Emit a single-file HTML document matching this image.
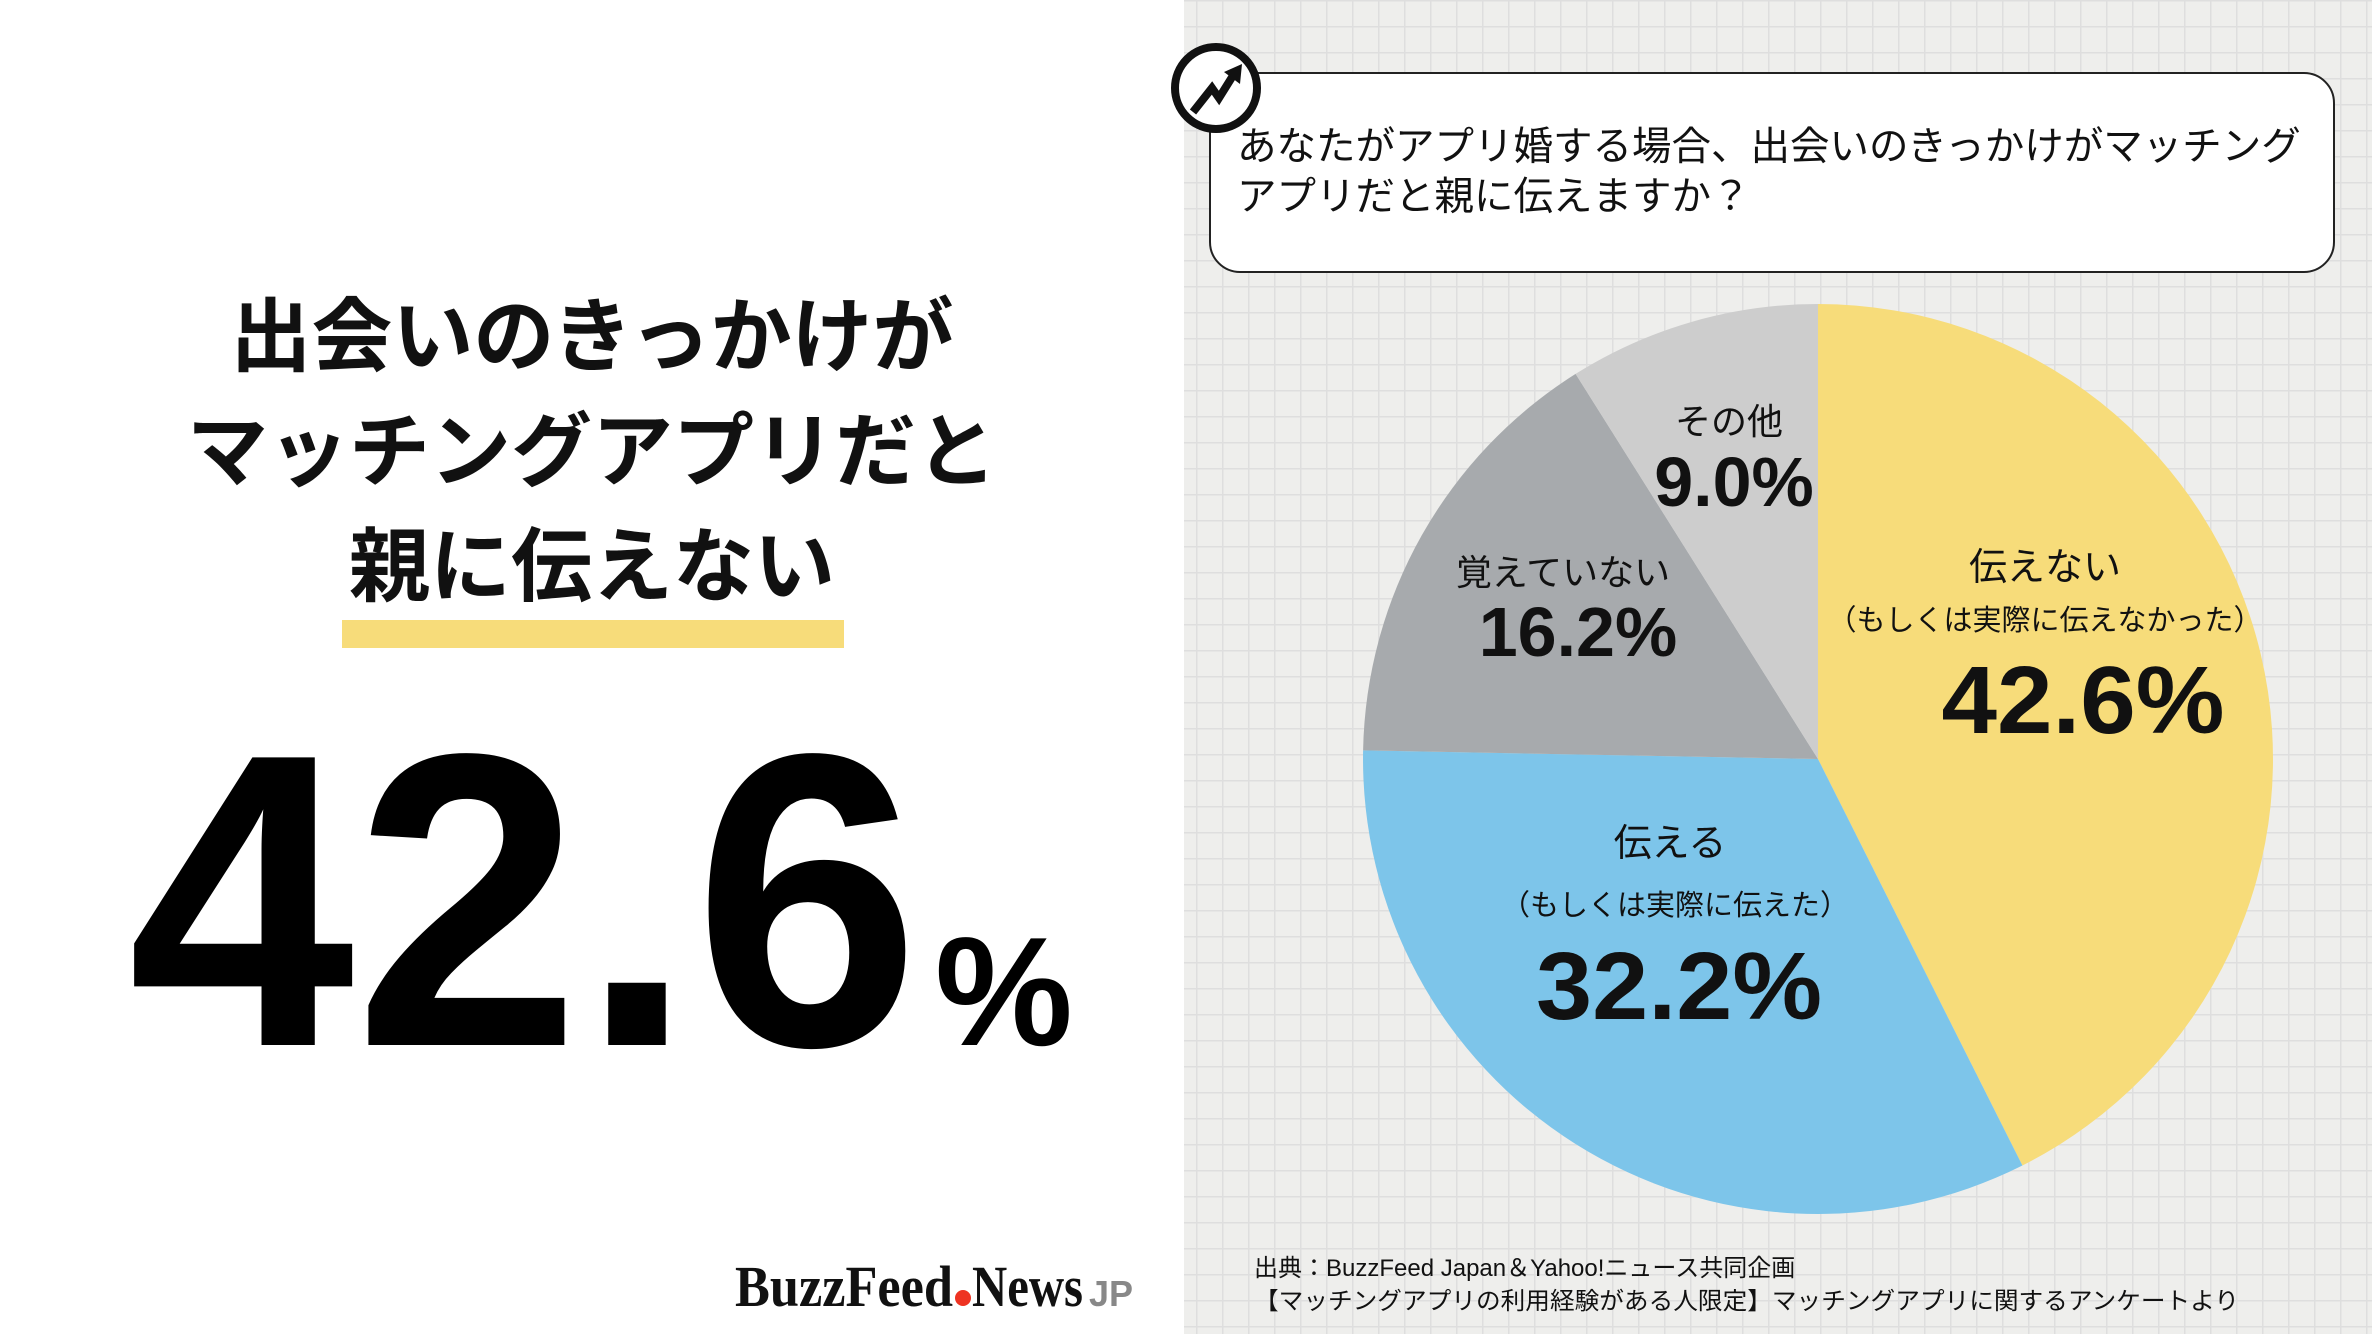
<!DOCTYPE html>
<html><head><meta charset="utf-8"><style>
html,body{margin:0;padding:0;background:#fff}
svg{display:block}
.jp{font-family:"Liberation Sans","Noto Sans CJK JP",sans-serif}
</style></head><body>
<svg width="2372" height="1334" viewBox="0 0 2372 1334" xmlns="http://www.w3.org/2000/svg" class="jp">
<defs>
<pattern id="g" width="26" height="26" patternUnits="userSpaceOnUse">
<rect width="26" height="26" fill="#eeeeec"/>
<path d="M0 0.5H26M0.5 0V26" stroke="#dedede" stroke-width="2"/>
</pattern>
</defs>
<rect x="0" y="0" width="1184" height="1334" fill="#fff"/>
<rect x="1184" y="0" width="1188" height="1334" fill="url(#g)"/>

<!-- left -->
<g font-weight="bold" fill="#111" font-size="81" text-anchor="middle">
<text x="592" y="365">出会いのきっかけが</text>
<text x="592" y="480">マッチングアプリだと</text>
<text x="592" y="595">親に伝えない</text>
</g>
<rect x="342" y="620" width="502" height="28" fill="#f7dc7a"/>
<text x="128" y="1045" font-size="418" font-weight="bold" fill="#000" textLength="792" lengthAdjust="spacingAndGlyphs" font-family="Liberation Sans,sans-serif">42.6</text>
<text x="935" y="1045" font-size="155" font-weight="bold" fill="#000" font-family="Liberation Sans,sans-serif">%</text>
<g font-family="Liberation Serif,serif" font-weight="bold" fill="#111">
<text x="735" y="1306" font-size="58" textLength="218" lengthAdjust="spacingAndGlyphs">BuzzFeed</text>
<circle cx="963" cy="1298" r="8" fill="#e32"/>
<text x="972" y="1306" font-size="58" textLength="111" lengthAdjust="spacingAndGlyphs">News</text>
<text x="1089" y="1306" font-size="36" fill="#888" font-family="Liberation Sans,sans-serif">JP</text>
</g>

<!-- bubble -->
<rect x="1210" y="73" width="1124" height="199" rx="30" fill="#fff" stroke="#222" stroke-width="2"/>
<circle cx="1216" cy="88" r="41" fill="#fff" stroke="#111" stroke-width="8"/>
<path d="M1193 112 L1212 88 L1219 98 L1234 74" fill="none" stroke="#111" stroke-width="8"/>
<path d="M1224 72 L1242 64 L1240 84 Z" fill="#111"/>
<g font-size="39.5" fill="#111">
<text x="1237" y="160">あなたがアプリ婚する場合、出会いのきっかけがマッチング</text>
<text x="1237" y="210">アプリだと親に伝えますか？</text>
</g>

<!-- pie -->
<g transform="translate(1818,759)">
<path d="M0 0 L0 -455 A455 455 0 0 1 204.4 406.5 Z" fill="#f7dc7a"/>
<path d="M0 0 L204.4 406.5 A455 455 0 0 1 -454.9 -8.6 Z" fill="#7dc5ea"/>
<path d="M0 0 L-454.9 -8.6 A455 455 0 0 1 -242.4 -385.1 Z" fill="#a7aaad"/>
<path d="M0 0 L-242.4 -385.1 A455 455 0 0 1 0 -455 Z" fill="#cdcdcd"/>
</g>
<g fill="#111" text-anchor="middle">
<text x="1729" y="434" font-size="36">その他</text>
<text x="1734" y="506" font-size="70" font-weight="bold" font-family="Liberation Sans,sans-serif">9.0%</text>
<text x="1563" y="585" font-size="36">覚えていない</text>
<text x="1578" y="656" font-size="70" font-weight="bold" font-family="Liberation Sans,sans-serif">16.2%</text>
<text x="2045" y="580" font-size="38">伝えない</text>
<text x="2045" y="630" font-size="29">（もしくは実際に伝えなかった）</text>
<text x="2083" y="733" font-size="96" font-weight="bold" font-family="Liberation Sans,sans-serif" textLength="283" lengthAdjust="spacingAndGlyphs">42.6%</text>
<text x="1670" y="856" font-size="38">伝える</text>
<text x="1675" y="915" font-size="29">（もしくは実際に伝えた）</text>
<text x="1679" y="1019" font-size="96" font-weight="bold" font-family="Liberation Sans,sans-serif" textLength="286" lengthAdjust="spacingAndGlyphs">32.2%</text>
</g>
<g font-size="24" fill="#111">
<text x="1254" y="1276">出典：BuzzFeed Japan＆Yahoo!ニュース共同企画</text>
<text x="1254" y="1309" textLength="985" lengthAdjust="spacingAndGlyphs">【マッチングアプリの利用経験がある人限定】マッチングアプリに関するアンケートより</text>
</g>
</svg>
</body></html>
